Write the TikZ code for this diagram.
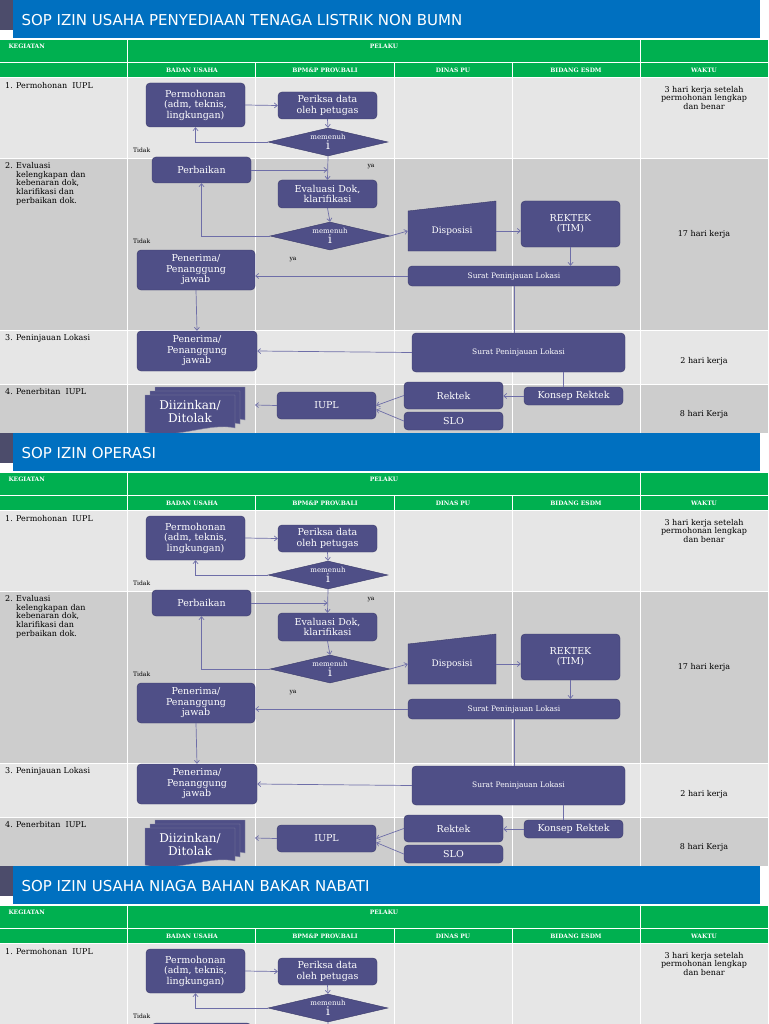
\documentclass[tikz,border=0pt]{standalone}
\usepackage{fontspec}
\setmainfont{DejaVu Serif}
\newfontfamily\titlefont{DejaVu Sans}
\usetikzlibrary{shapes.geometric,arrows.meta}
\definecolor{nodecol}{HTML}{4F4F87}
\definecolor{nodeedge}{HTML}{3A3A6A}
\definecolor{arr}{HTML}{6E6EA8}
\definecolor{gbar}{HTML}{00B050}
\definecolor{bbar}{HTML}{0070C0}
\definecolor{lrow}{HTML}{E6E6E6}
\definecolor{drow}{HTML}{CDCDCD}
\tikzset{
 box/.style={rounded corners=4pt, fill=nodecol, draw=nodeedge, text=white, align=center, inner sep=0pt, font=\fontsize{9.5}{10.5}\selectfont},
 sbox/.style={box, font=\fontsize{7.5}{8.5}\selectfont},
 dia/.style={diamond, aspect=4.3, fill=nodecol, draw=nodeedge, text=white, inner sep=0pt, align=center, font=\fontsize{7}{7.5}\selectfont},
 con/.style={draw=arr, line width=0.7pt, -{Straight Barb[length=3pt,width=5pt]}},
 lin/.style={draw=arr, line width=0.7pt},
 hdr/.style={font=\bfseries\fontsize{6}{6.5}\selectfont, text=white},
 keg/.style={font=\fontsize{8}{8.8}\selectfont, align=left, anchor=north west, inner sep=0pt},
 wkt/.style={font=\fontsize{8}{8.8}\selectfont, align=center},
 lbl/.style={font=\fontsize{6}{6}\selectfont, inner sep=0pt}
}
\newcommand{\sopblock}[3]{%
\begin{scope}[yshift=-#1pt]
 \fill[bbar] (13,0) rectangle (760,38);
 \fill[black!70!blue!40!gray] (0,0) rectangle (13,30);
 \node[anchor=west, text=white, font=\titlefont\fontsize{15}{15}\selectfont] (#3-title) at (18,20) {#2};
 \fill[white] (0,38) rectangle (768,433);
 \fill[gbar] (0,40) rectangle (768,62);
 \fill[gbar] (0,63) rectangle (768,77);
 \fill[lrow] (0,78) rectangle (768,158);
 \fill[drow] (0,159) rectangle (768,330);
 \fill[lrow] (0,331) rectangle (768,384);
 \fill[drow] (0,385) rectangle (768,433);
 \foreach \x in {127.5,640.5}{\draw[white,line width=1.2pt] (\x,40) -- (\x,433);}
 \foreach \x in {255.5,394.5,512.5}{\draw[white,line width=1.2pt] (\x,63) -- (\x,433);}
 \foreach \y in {62.5,77.5,158.5,330.5,384.5}{\draw[white,line width=1.2pt] (0,\y) -- (768,\y);}
 \node[hdr, anchor=west] (#3-h1) at (5,46) {KEGIATAN};
 \node[hdr] (#3-h2) at (384,46) {PELAKU};
 \node[hdr] (#3-h3) at (192,70) {BADAN USAHA};
 \node[hdr] (#3-h4) at (325,70) {BPM\&P PROV.BALI};
 \node[hdr] (#3-h5) at (453,70) {DINAS PU};
 \node[hdr] (#3-h6) at (576,70) {BIDANG ESDM};
 \node[hdr] (#3-h7) at (704,70) {WAKTU};
 \node[keg] (#3-k1) at (5,82) {1. Permohonan\ \ IUPL};
 \node[keg] (#3-k2) at (5,162) {2. Evaluasi\\\hspace*{11pt}kelengkapan dan\\\hspace*{11pt}kebenaran dok,\\\hspace*{11pt}klarifikasi dan\\\hspace*{11pt}perbaikan dok.};
 \node[keg] (#3-k3) at (5,334) {3. Peninjauan Lokasi};
 \node[keg] (#3-k4) at (5,388) {4. Penerbitan\ \ IUPL};
 \node[wkt] (#3-w1) at (704,98) {3 hari kerja setelah\\permohonan lengkap\\dan benar};
 \node[wkt] (#3-w2) at (704,234) {17 hari kerja};
 \node[wkt] (#3-w3) at (704,361) {2 hari kerja};
 \node[wkt] (#3-w4) at (704,414) {8 hari Kerja};
 \node[box, minimum width=99pt, minimum height=44pt] (#3-perm) at (195.5,105) {Permohonan\\(adm, teknis,\\lingkungan)};
 \node[box, minimum width=99pt, minimum height=27pt] (#3-per) at (327.5,105.5) {Periksa data\\oleh petugas};
 \node[dia, minimum width=120pt, minimum height=28pt] (#3-d1) at (328,142) {memenuh\\\fontsize{12}{12}\selectfont i};
 \node[box, minimum width=99pt, minimum height=26pt] (#3-perb) at (201.5,170) {Perbaikan};
 \node[box, minimum width=99pt, minimum height=28pt] (#3-eva) at (327.5,194) {Evaluasi Dok,\\klarifikasi};
 \node[dia, minimum width=120pt, minimum height=28pt] (#3-d2) at (330,236) {memenuh\\\fontsize{12}{12}\selectfont i};
 \fill[nodecol, draw=nodeedge] (408,211) -- (496,201) -- (496,251) -- (408,251) -- cycle;
 \node[text=white, font=\fontsize{9}{9}\selectfont, minimum width=88pt, minimum height=40pt, inner sep=0pt] (#3-disp) at (452,231) {Disposisi};
 \node[box, minimum width=99pt, minimum height=46pt] (#3-rtim) at (570.5,224) {REKTEK\\(TIM)};
 \node[sbox, minimum width=212pt, minimum height=20pt] (#3-s1) at (514,276) {Surat Peninjauan Lokasi};
 \node[box, minimum width=118pt, minimum height=40pt] (#3-pen1) at (196,270) {Penerima/\\Penanggung\\jawab};
 \node[box, minimum width=120pt, minimum height=40pt] (#3-pen2) at (197,351) {Penerima/\\Penanggung\\jawab};
 \node[sbox, minimum width=213pt, minimum height=39pt] (#3-s2) at (518.5,352.5) {Surat Peninjauan Lokasi};
 \node[box, minimum width=99pt, minimum height=18pt] (#3-kons) at (573.5,396) {Konsep Rektek};
 \node[box, minimum width=99pt, minimum height=27pt] (#3-rek) at (453.5,395.5) {Rektek};
 \node[box, minimum width=99pt, minimum height=18pt] (#3-slo) at (453.5,421) {SLO};
 \node[box, minimum width=99pt, minimum height=27pt] (#3-iupl) at (326.5,405.5) {IUPL};
 \foreach \dx/\dy in {10/-8,5/-4,0/0}{
  \fill[nodecol, draw=nodeedge!60!white] (145+\dx,395+\dy) -- (235+\dx,395+\dy) -- (235+\dx,428+\dy) .. controls (210+\dx,422+\dy) and (175+\dx,440+\dy) .. (145+\dx,432+\dy) -- cycle;}
 \node[text=white, align=center, font=\fontsize{12}{13}\selectfont, inner sep=0pt] (#3-diz) at (190,412) {Diizinkan/\\Ditolak};
 \coordinate (#3-dizr) at (255,405);
 \node[lbl, anchor=west] (#3-t1) at (133,150) {Tidak};
 \node[lbl, anchor=west] (#3-t2) at (133,241) {Tidak};
 \node[lbl] (#3-y1) at (371,167) {ya};
 \node[lbl] (#3-y2) at (293,260) {ya};
 \draw[con] (#3-perm.east) -- (#3-per.west);
 \draw[con] (#3-per.south) -- (#3-d1.north);
 \draw[con] (#3-d1.west) -- (#3-d1.west -| #3-perm.south) -- (#3-perm.south);
 \draw[con] (#3-d1.south) -- (#3-eva.north);
 \draw[con] (#3-perb.east) -- (#3-perb.east -| #3-eva.north);
 \draw[con] (#3-eva.south) -- (#3-d2.north);
 \draw[con] (#3-d2.west) -- (#3-d2.west -| #3-perb.south) -- (#3-perb.south);
 \draw[con] (#3-d2.east) -- (#3-disp.west);
 \draw[con] (#3-disp.east) -- (#3-disp.east -| #3-rtim.west);
 \draw[con] (#3-rtim.south) -- (#3-s1.north -| #3-rtim.south);
 \draw[con] (#3-s1.west) -- (#3-s1.west -| #3-pen1.east);
 \draw[con] (#3-pen1.south) -- (#3-pen2.north);
 \draw[lin] (#3-s1.south) -- (#3-s1.south |- #3-s2.north);
 \draw[con] (#3-s2.west) -- (#3-pen2.east);
 \draw[lin] (#3-s2.south -| #3-kons.north) ++(-10,0) -- ([xshift=-10pt]#3-kons.north);
 \draw[con] (#3-kons.west) -- (#3-kons.west -| #3-rek.east);
 \draw[con] (#3-rek.west) -- (#3-iupl.east);
 \draw[con] (#3-slo.west) -- ([yshift=-4pt]#3-iupl.east);
 \draw[con] (#3-iupl.west) -- (#3-dizr);
\end{scope}}
\begin{document}
\begin{tikzpicture}[x=1pt,y=-1pt]
\useasboundingbox (0,0) rectangle (768,1024);
\clip (0,0) rectangle (768,1024);
\fill[white] (0,0) rectangle (768,1024);
\sopblock{0}{SOP IZIN USAHA PENYEDIAAN TENAGA LISTRIK NON BUMN}{a}
\sopblock{433}{SOP IZIN OPERASI}{b}
\sopblock{866}{SOP IZIN USAHA NIAGA BAHAN BAKAR NABATI}{c}
\end{tikzpicture}
\end{document}
